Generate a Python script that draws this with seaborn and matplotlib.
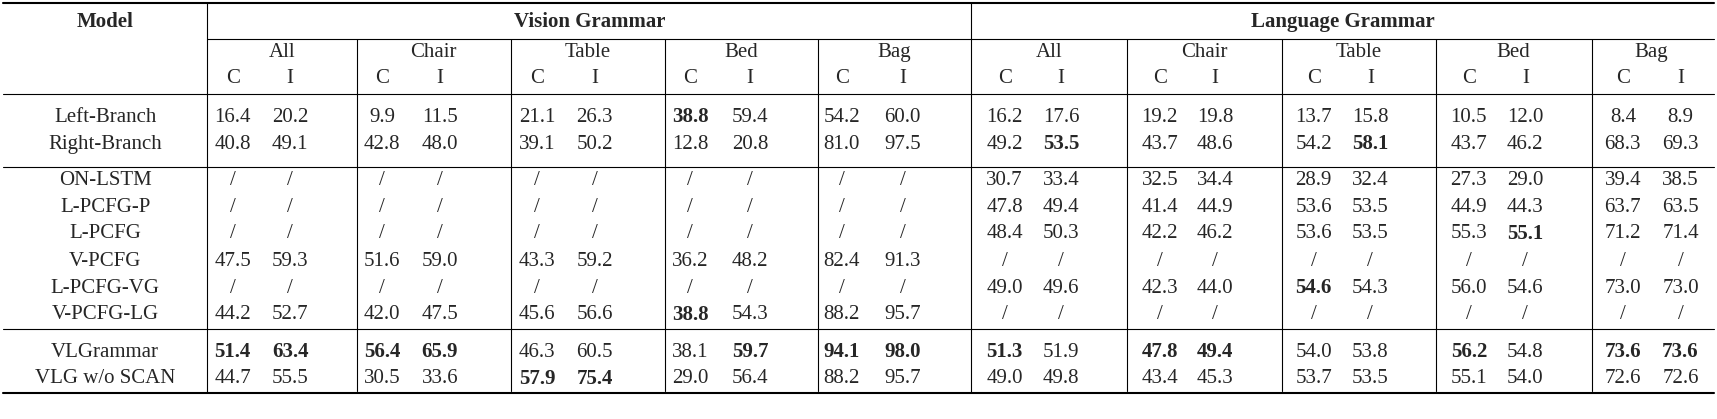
import matplotlib
matplotlib.use("Agg")
import matplotlib.pyplot as plt
import seaborn as sns

sns.set_style("white")
plt.rcParams['font.family'] = ['Liberation Serif', 'DejaVu Serif']

models = ["Left-Branch", "Right-Branch", "ON-LSTM", "L-PCFG-P", "L-PCFG", "V-PCFG",
          "L-PCFG-VG", "V-PCFG-LG", "VLGrammar", "VLG w/o SCAN"]
groups = ["All", "Chair", "Table", "Bed", "Bag"]
rows = [
    "16.4 20.2 9.9 11.5 21.1 26.3 38.8 59.4 54.2 60.0 16.2 17.6 19.2 19.8 13.7 15.8 10.5 12.0 8.4 8.9",
    "40.8 49.1 42.8 48.0 39.1 50.2 12.8 20.8 81.0 97.5 49.2 53.5 43.7 48.6 54.2 58.1 43.7 46.2 68.3 69.3",
    "/ / / / / / / / / / 30.7 33.4 32.5 34.4 28.9 32.4 27.3 29.0 39.4 38.5",
    "/ / / / / / / / / / 47.8 49.4 41.4 44.9 53.6 53.5 44.9 44.3 63.7 63.5",
    "/ / / / / / / / / / 48.4 50.3 42.2 46.2 53.6 53.5 55.3 55.1 71.2 71.4",
    "47.5 59.3 51.6 59.0 43.3 59.2 36.2 48.2 82.4 91.3 / / / / / / / / / /",
    "/ / / / / / / / / / 49.0 49.6 42.3 44.0 54.6 54.3 56.0 54.6 73.0 73.0",
    "44.2 52.7 42.0 47.5 45.6 56.6 38.8 54.3 88.2 95.7 / / / / / / / / / /",
    "51.4 63.4 56.4 65.9 46.3 60.5 38.1 59.7 94.1 98.0 51.3 51.9 47.8 49.4 54.0 53.8 56.2 54.8 73.6 73.6",
    "44.7 55.5 30.5 33.6 57.9 75.4 29.0 56.4 88.2 95.7 49.0 49.8 43.4 45.3 53.7 53.5 55.1 54.0 72.6 72.6",
]
values = [r.split() for r in rows]
bold = {(0, 6), (1, 11), (1, 15), (4, 17), (6, 14), (7, 6),
        (8, 0), (8, 1), (8, 2), (8, 3), (8, 7), (8, 8), (8, 9), (8, 10), (8, 12), (8, 13),
        (8, 16), (8, 18), (8, 19), (9, 4), (9, 5)}

W, H = 1717, 419
S = 1717 / 1550
fig = plt.figure(figsize=(W / 100, H / 100), dpi=100)
ax = fig.add_axes([0, 0, 1, 1])
ax.set_xlim(0, W / S); ax.set_ylim(H / S, 0); ax.axis("off")

col_x = [210, 262, 345, 397, 485, 537, 623, 677, 760, 815,
         907, 958, 1047, 1097, 1186, 1237, 1326, 1377, 1465, 1517]
grp_edges = [187, 322, 461, 600, 738, 877, 1017, 1157, 1296, 1437, 1547]
row_y = [106, 130, 163, 187, 211, 236, 260, 284, 318, 342]
fs = 15

ax.text(95, 20, "Model", ha="center", va="center", fontsize=fs, fontweight="bold")
ax.text(532, 20, "Vision Grammar", ha="center", va="center", fontsize=fs, fontweight="bold")
ax.text(1212, 20, "Language Grammar", ha="center", va="center", fontsize=fs, fontweight="bold")
for i in range(10):
    cx = (grp_edges[i] + grp_edges[i + 1]) / 2 if i < 9 else 1491
    ax.text(cx, 47, groups[i % 5], ha="center", va="center", fontsize=fs)
for j, x in enumerate(col_x):
    ax.text(x, 71, "CI"[j % 2], ha="center", va="center", fontsize=fs)
for r, (m, y) in enumerate(zip(models, row_y)):
    ax.text(95, y, m, ha="center", va="center", fontsize=fs)
    for j, x in enumerate(col_x):
        ax.text(x, y, values[r][j], ha="center", va="center", fontsize=fs,
                fontweight="bold" if (r, j) in bold else "normal")

L, R = 3, 1547
ax.plot([L, R], [3, 3], color="black", lw=1.5)
ax.plot([187, R], [35, 35], color="black", lw=0.8)
for y in [85, 151, 297]:
    ax.plot([L, R], [y, y], color="black", lw=0.8)
ax.plot([L, R], [355, 355], color="black", lw=1.5)
for x in [187, 877]:
    ax.plot([x, x], [3, 355], color="black", lw=0.8)
for x in grp_edges[1:5] + grp_edges[6:10]:
    ax.plot([x, x], [35, 353], color="black", lw=0.8)

fig.savefig("out.png", dpi=100)
